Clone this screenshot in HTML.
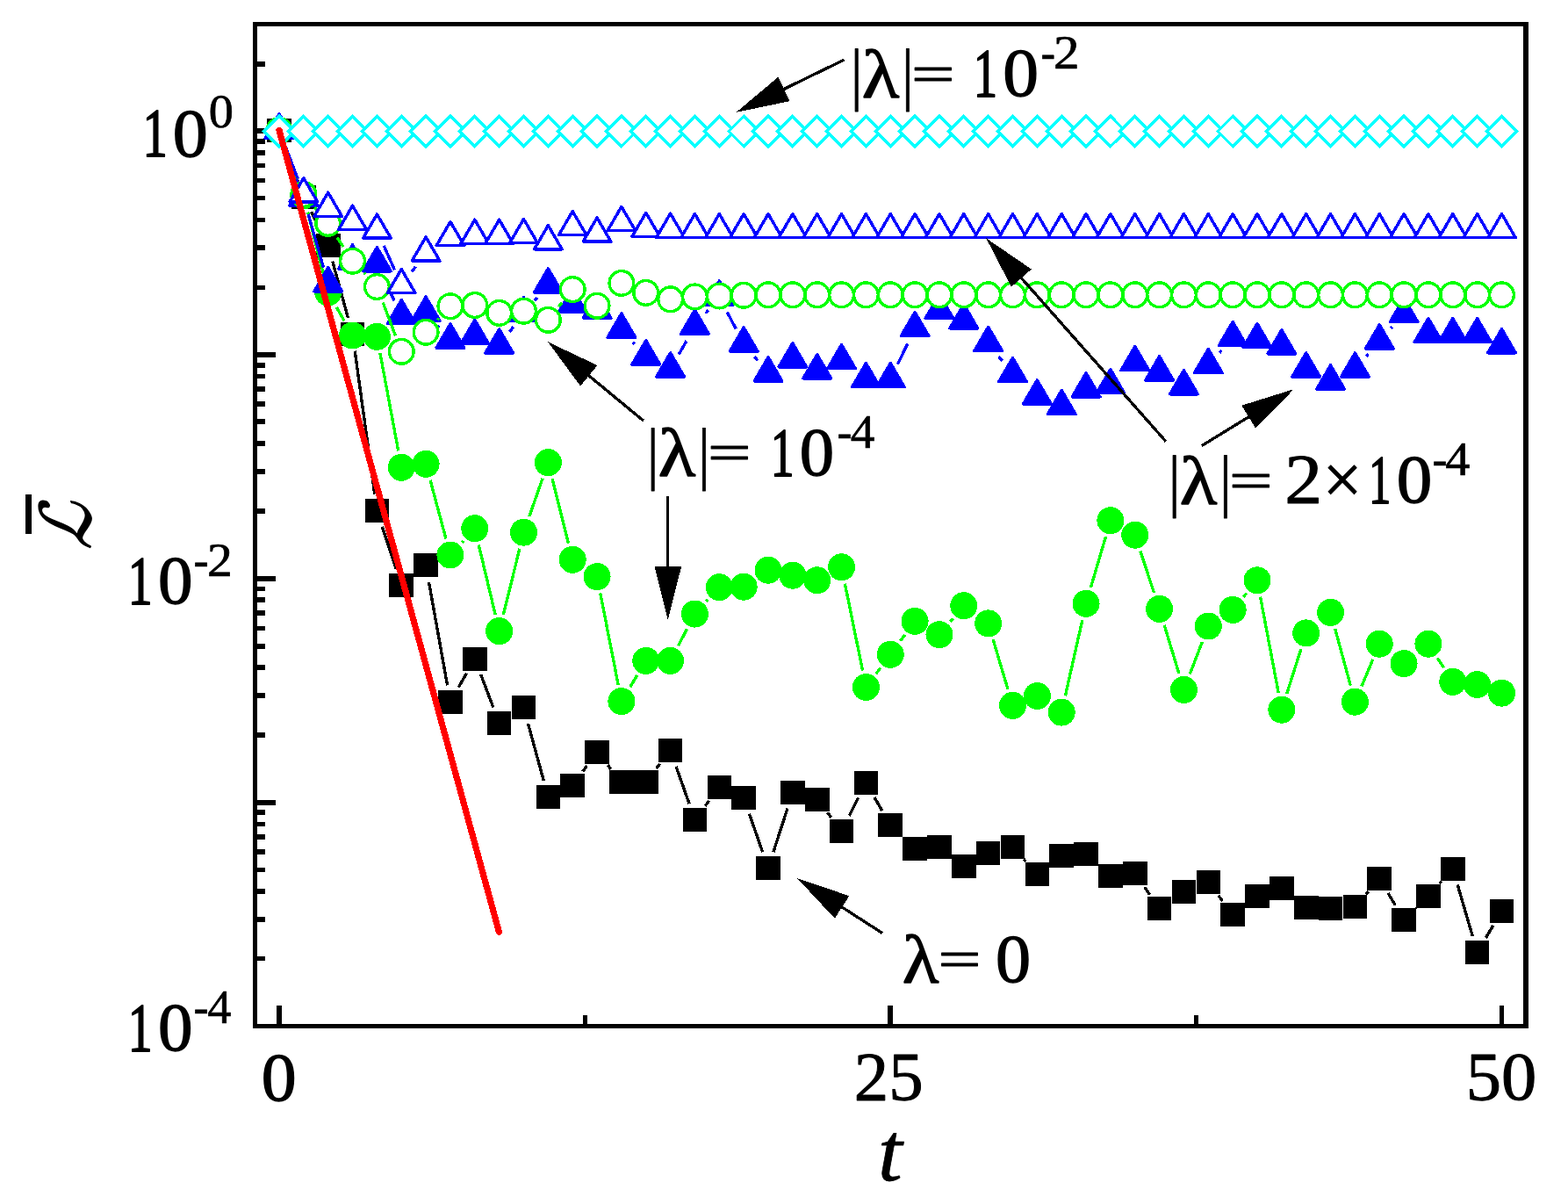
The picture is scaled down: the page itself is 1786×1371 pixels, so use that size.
<!DOCTYPE html>
<html lang="en">
<head>
<meta charset="utf-8">
<title>Chart</title>
<style>
html,body{margin:0;padding:0;background:#fff;}
body{width:1786px;height:1371px;overflow:hidden;}
svg{display:block;}
</style>
</head>
<body>
<svg width="1786" height="1371" viewBox="0 0 1786 1371" font-family="'Liberation Serif', 'DejaVu Serif', serif" fill="#000">
<rect width="1786" height="1371" fill="#fff"/>
<g id="axes" shape-rendering="crispEdges">
<rect x="288" y="25" width="5" height="1146"/>
<rect x="1735" y="25" width="6" height="1146"/>
<rect x="288" y="25" width="1453" height="5"/>
<rect x="288" y="1166" width="1453" height="5"/>
<rect x="293" y="70" width="9" height="6"/>
<rect x="293" y="146" width="21" height="6"/>
<rect x="293" y="158" width="9" height="6"/>
<rect x="293" y="171" width="9" height="6"/>
<rect x="293" y="186" width="9" height="5"/>
<rect x="293" y="203" width="9" height="5"/>
<rect x="293" y="223" width="9" height="5"/>
<rect x="293" y="248" width="9" height="5"/>
<rect x="293" y="279" width="9" height="6"/>
<rect x="293" y="325" width="9" height="5"/>
<rect x="293" y="401" width="21" height="6"/>
<rect x="293" y="413" width="9" height="6"/>
<rect x="293" y="426" width="9" height="5"/>
<rect x="293" y="440" width="9" height="6"/>
<rect x="293" y="457" width="9" height="6"/>
<rect x="293" y="477" width="9" height="6"/>
<rect x="293" y="502" width="9" height="6"/>
<rect x="293" y="534" width="9" height="6"/>
<rect x="293" y="579" width="9" height="6"/>
<rect x="293" y="656" width="21" height="6"/>
<rect x="293" y="668" width="9" height="5"/>
<rect x="293" y="680" width="9" height="6"/>
<rect x="293" y="695" width="9" height="6"/>
<rect x="293" y="713" width="9" height="5"/>
<rect x="293" y="733" width="9" height="6"/>
<rect x="293" y="757" width="9" height="6"/>
<rect x="293" y="789" width="9" height="6"/>
<rect x="293" y="834" width="9" height="6"/>
<rect x="293" y="911" width="21" height="6"/>
<rect x="293" y="922" width="9" height="6"/>
<rect x="293" y="936" width="9" height="5"/>
<rect x="293" y="950" width="9" height="6"/>
<rect x="293" y="967" width="9" height="6"/>
<rect x="293" y="988" width="9" height="5"/>
<rect x="293" y="1012" width="9" height="6"/>
<rect x="293" y="1044" width="9" height="6"/>
<rect x="293" y="1089" width="9" height="5"/>
<rect x="315" y="1145" width="6" height="21"/>
<rect x="664" y="1156" width="5" height="10"/>
<rect x="1011" y="1145" width="6" height="21"/>
<rect x="1360" y="1156" width="5" height="10"/>
<rect x="1708" y="1145" width="5" height="21"/>
</g>
<g id="series" shape-rendering="crispEdges">
<path d="M324.64 166.61L339.21 206.09M354.52 241.23L365.03 261.97M378.78 297.62L396.47 362.08M404.19 399.62L426.76 562.58M435.39 599.84L451.26 648.16M488.48 662.7L509.57 780.4M522.39 782.58L531.36 766.72M547.6 767.95L561.85 805.55M601.56 824.12L619.29 888.98M663.65 878.59L668.6 871.91M692.22 871.35L695.73 875.65M747.58 875.08L751.77 869.72M770.01 872.7L785.04 915.1M803.06 917.91L807.69 911.79M853.48 926.83L868.67 970.37M880.9 970.23L896.95 920.57M942.49 925.35L946.76 930.85M967.26 928.89L977.69 908.41M995.98 907.94L1004.67 923.06M1166.24 978.56L1168.61 981.24M1303.76 1010.23L1309.59 1018.57M1387.83 1019.76L1392.62 1026.14M1555.89 1018.32L1558.76 1014.98M1581.04 1016.92L1589.31 1030.88M1612.86 1034.01L1613.19 1033.69M1639.71 1005.96L1642.04 1003.34M1660.18 1007.43L1677.27 1065.97M1692.44 1067.88L1700.71 1053.92" fill="none" stroke="#000" stroke-width="3.35"/>
<path d="M304.2 135.1h27.6v27h-27.6zM332.05 210.6h27.6v27h-27.6zM359.9 265.6h27.6v27h-27.6zM387.75 367.1h27.6v27h-27.6zM415.6 568.1h27.6v27h-27.6zM443.45 652.9h27.6v27h-27.6zM471.3 630.3h27.6v27h-27.6zM499.15 785.8h27.6v27h-27.6zM527 736.5h27.6v27h-27.6zM554.85 810h27.6v27h-27.6zM582.7 792.1h27.6v27h-27.6zM610.55 894h27.6v27h-27.6zM638.4 880.5h27.6v27h-27.6zM666.25 843h27.6v27h-27.6zM694.1 877h27.6v27h-27.6zM721.95 876.7h27.6v27h-27.6zM749.8 841.1h27.6v27h-27.6zM777.65 919.7h27.6v27h-27.6zM805.5 883h27.6v27h-27.6zM833.35 895.2h27.6v27h-27.6zM861.2 975h27.6v27h-27.6zM889.05 888.8h27.6v27h-27.6zM916.9 896.7h27.6v27h-27.6zM944.75 932.5h27.6v27h-27.6zM972.6 877.8h27.6v27h-27.6zM1000.45 926.2h27.6v27h-27.6zM1028.3 952.5h27.6v27h-27.6zM1056.15 951.4h27.6v27h-27.6zM1084 972.7h27.6v27h-27.6zM1111.85 957.9h27.6v27h-27.6zM1139.7 950.7h27.6v27h-27.6zM1167.55 982.1h27.6v27h-27.6zM1195.4 960.8h27.6v27h-27.6zM1223.25 959.2h27.6v27h-27.6zM1251.1 984.3h27.6v27h-27.6zM1278.95 981h27.6v27h-27.6zM1306.8 1020.8h27.6v27h-27.6zM1334.65 1002.2h27.6v27h-27.6zM1362.5 990.9h27.6v27h-27.6zM1390.35 1028h27.6v27h-27.6zM1418.2 1006.5h27.6v27h-27.6zM1446.05 997.9h27.6v27h-27.6zM1473.9 1019.8h27.6v27h-27.6zM1501.75 1021h27.6v27h-27.6zM1529.6 1019.4h27.6v27h-27.6zM1557.45 986.9h27.6v27h-27.6zM1585.3 1033.9h27.6v27h-27.6zM1613.15 1006.8h27.6v27h-27.6zM1641 975.5h27.6v27h-27.6zM1668.85 1070.9h27.6v27h-27.6zM1696.7 1023.9h27.6v27h-27.6z" fill="#000"/>
<path d="M324.73 166.58L339.12 205.02M350.56 241.61L368.99 314.39M383.19 349.69L392.06 365.31M432.93 402.17L453.72 513.43M490.08 546.84L507.97 613.46M525.94 617.86L527.81 615.84M545.25 620.38L564.2 700.02M573.26 700.06L591.89 624.84M602.85 588.08L618 544.82M629.04 545.32L647.51 618.68M683.75 675.44L704.2 779.76M717.81 782.16L725.84 768.84M772.49 735.38L782.56 716.12M804.42 684.94L806.33 682.86M962.38 664.61L982.57 763.69M997.91 767.13L1002.74 760.67M1025.62 729.83L1030.73 722.87M1082.33 708.03L1085.42 704.37M1131.14 728.3L1148.01 784.9M1213.41 792.37L1232.84 706.03M1242.47 668.88L1259.48 611.12M1298.79 627.43L1314.56 675.07M1326.16 711.68L1342.89 767.02M1355.34 767.48L1369.41 730.92M1416.4 679.62L1419.75 675.58M1435.56 679.67L1456.29 789.33M1465.69 789.91L1481.86 739.19M1520.61 715.82L1538.34 780.68M1550.86 781.51L1563.79 750.89M1637.35 749.34L1644.4 760.26" fill="none" stroke="#00ff00" stroke-width="3.35"/>
<circle cx="318" cy="148.6" r="15.5" fill="#00ff00"/><circle cx="345.85" cy="223" r="15.5" fill="#00ff00"/><circle cx="373.7" cy="333" r="15.5" fill="#00ff00"/><circle cx="401.55" cy="382" r="15.5" fill="#00ff00"/><circle cx="429.4" cy="383.3" r="15.5" fill="#00ff00"/><circle cx="457.25" cy="532.3" r="15.5" fill="#00ff00"/><circle cx="485.1" cy="528.3" r="15.5" fill="#00ff00"/><circle cx="512.95" cy="632" r="15.5" fill="#00ff00"/><circle cx="540.8" cy="601.7" r="15.5" fill="#00ff00"/><circle cx="568.65" cy="718.7" r="15.5" fill="#00ff00"/><circle cx="596.5" cy="606.2" r="15.5" fill="#00ff00"/><circle cx="624.35" cy="526.7" r="15.5" fill="#00ff00"/><circle cx="652.2" cy="637.3" r="15.5" fill="#00ff00"/><circle cx="680.05" cy="656.6" r="15.5" fill="#00ff00"/><circle cx="707.9" cy="798.6" r="15.5" fill="#00ff00"/><circle cx="735.75" cy="752.4" r="15.5" fill="#00ff00"/><circle cx="763.6" cy="752.4" r="15.5" fill="#00ff00"/><circle cx="791.45" cy="699.1" r="15.5" fill="#00ff00"/><circle cx="819.3" cy="668.7" r="15.5" fill="#00ff00"/><circle cx="847.15" cy="668.2" r="15.5" fill="#00ff00"/><circle cx="875" cy="649.2" r="15.5" fill="#00ff00"/><circle cx="902.85" cy="655.2" r="15.5" fill="#00ff00"/><circle cx="930.7" cy="660.8" r="15.5" fill="#00ff00"/><circle cx="958.55" cy="645.8" r="15.5" fill="#00ff00"/><circle cx="986.4" cy="782.5" r="15.5" fill="#00ff00"/><circle cx="1014.25" cy="745.3" r="15.5" fill="#00ff00"/><circle cx="1042.1" cy="707.4" r="15.5" fill="#00ff00"/><circle cx="1069.95" cy="722.7" r="15.5" fill="#00ff00"/><circle cx="1097.8" cy="689.7" r="15.5" fill="#00ff00"/><circle cx="1125.65" cy="709.9" r="15.5" fill="#00ff00"/><circle cx="1153.5" cy="803.3" r="15.5" fill="#00ff00"/><circle cx="1181.35" cy="792.5" r="15.5" fill="#00ff00"/><circle cx="1209.2" cy="811.1" r="15.5" fill="#00ff00"/><circle cx="1237.05" cy="687.3" r="15.5" fill="#00ff00"/><circle cx="1264.9" cy="592.7" r="15.5" fill="#00ff00"/><circle cx="1292.75" cy="609.2" r="15.5" fill="#00ff00"/><circle cx="1320.6" cy="693.3" r="15.5" fill="#00ff00"/><circle cx="1348.45" cy="785.4" r="15.5" fill="#00ff00"/><circle cx="1376.3" cy="713" r="15.5" fill="#00ff00"/><circle cx="1404.15" cy="694.4" r="15.5" fill="#00ff00"/><circle cx="1432" cy="660.8" r="15.5" fill="#00ff00"/><circle cx="1459.85" cy="808.2" r="15.5" fill="#00ff00"/><circle cx="1487.7" cy="720.9" r="15.5" fill="#00ff00"/><circle cx="1515.55" cy="697.3" r="15.5" fill="#00ff00"/><circle cx="1543.4" cy="799.2" r="15.5" fill="#00ff00"/><circle cx="1571.25" cy="733.2" r="15.5" fill="#00ff00"/><circle cx="1599.1" cy="755.6" r="15.5" fill="#00ff00"/><circle cx="1626.95" cy="733.2" r="15.5" fill="#00ff00"/><circle cx="1654.8" cy="776.4" r="15.5" fill="#00ff00"/><circle cx="1682.65" cy="779.5" r="15.5" fill="#00ff00"/><circle cx="1710.5" cy="789.2" r="15.5" fill="#00ff00"/>
<path d="M324.58 166.94L339.27 207.26M351.11 243.77L368.44 304.63M437.49 317.51L449.16 342.59M497.98 370.74L500.07 373.06M580.34 378.07L584.81 372.23M608.95 342.38L611.9 338.92M720.78 389.74L722.87 392.06M773.12 403.62L781.93 388.18M803.83 356.83L806.92 353.17M828.26 355.48L838.19 374.32M859.32 406.15L862.83 410.45M1022.56 414.69L1033.79 391.31M1137.56 405.86L1141.59 410.94M1389.13 401.62L1391.32 399.18M1555.98 405.9L1558.67 402.8M1584.24 374.16L1586.11 372.14" fill="none" stroke="#0000ff" stroke-width="3.35"/>
<path d="M318 130.5L333.8 157.6H302.2zM345.85 206.9L361.65 234H330.05zM373.7 304.7L389.5 331.8H357.9zM401.55 278.9L417.35 306H385.75zM429.4 281.7L445.2 308.8H413.6zM457.25 341.6L473.05 368.7H441.45zM485.1 338.1L500.9 365.2H469.3zM512.95 368.9L528.75 396H497.15zM540.8 364.4L556.6 391.5H525zM568.65 374.9L584.45 402H552.85zM596.5 338.6L612.3 365.7H580.7zM624.35 305.9L640.15 333H608.55zM652.2 328.6L668 355.7H636.4zM680.05 334.9L695.85 362H664.25zM707.9 357.1L723.7 384.2H692.1zM735.75 387.9L751.55 415H719.95zM763.6 401.9L779.4 429H747.8zM791.45 353.1L807.25 380.2H775.65zM819.3 320.1L835.1 347.2H803.5zM847.15 372.9L862.95 400H831.35zM875 406.9L890.8 434H859.2zM902.85 390.8L918.65 417.9H887.05zM930.7 403.8L946.5 430.9H914.9zM958.55 392.6L974.35 419.7H942.75zM986.4 413.6L1002.2 440.7H970.6zM1014.25 413.6L1030.05 440.7H998.45zM1042.1 355.6L1057.9 382.7H1026.3zM1069.95 335.4L1085.75 362.5H1054.15zM1097.8 346.7L1113.6 373.8H1082zM1125.65 372.4L1141.45 399.5H1109.85zM1153.5 407.6L1169.3 434.7H1137.7zM1181.35 432.9L1197.15 460H1165.55zM1209.2 444.5L1225 471.6H1193.4zM1237.05 424.8L1252.85 451.9H1221.25zM1264.9 420.6L1280.7 447.7H1249.1zM1292.75 394.6L1308.55 421.7H1276.95zM1320.6 405.8L1336.4 432.9H1304.8zM1348.45 421.7L1364.25 448.8H1332.65zM1376.3 397.5L1392.1 424.6H1360.5zM1404.15 366.5L1419.95 393.6H1388.35zM1432 368.5L1447.8 395.6H1416.2zM1459.85 375.8L1475.65 402.9H1444.05zM1487.7 402L1503.5 429.1H1471.9zM1515.55 415.9L1531.35 443H1499.75zM1543.4 402L1559.2 429.1H1527.6zM1571.25 369.9L1587.05 397H1555.45zM1599.1 339.6L1614.9 366.7H1583.3zM1626.95 362.6L1642.75 389.7H1611.15zM1654.8 362.6L1670.6 389.7H1639zM1682.65 362.6L1698.45 389.7H1666.85zM1710.5 374.7L1726.3 401.8H1694.7z" fill="#0000ff" stroke="#0000ff" stroke-width="3.45" stroke-linejoin="round"/>
<path d="M324.85 166.54L339 203.56M358.26 236.15L361.29 239.75M384.17 270.49L391.08 281.11M414.78 311.12L416.17 312.58M436.18 344.46L450.47 382.34M498.28 364.24L499.77 362.66M636.37 349.33L640.18 344.57" fill="none" stroke="#00ff00" stroke-width="3.35"/>
<circle cx="318" cy="148.6" r="13.85" fill="#fff" stroke="#00ff00" stroke-width="3.4"/><circle cx="345.85" cy="221.5" r="13.85" fill="#fff" stroke="#00ff00" stroke-width="3.4"/><circle cx="373.7" cy="254.4" r="13.85" fill="#fff" stroke="#00ff00" stroke-width="3.4"/><circle cx="401.55" cy="297.2" r="13.85" fill="#fff" stroke="#00ff00" stroke-width="3.4"/><circle cx="429.4" cy="326.5" r="13.85" fill="#fff" stroke="#00ff00" stroke-width="3.4"/><circle cx="457.25" cy="400.3" r="13.85" fill="#fff" stroke="#00ff00" stroke-width="3.4"/><circle cx="485.1" cy="378.2" r="13.85" fill="#fff" stroke="#00ff00" stroke-width="3.4"/><circle cx="512.95" cy="348.7" r="13.85" fill="#fff" stroke="#00ff00" stroke-width="3.4"/><circle cx="540.8" cy="347.5" r="13.85" fill="#fff" stroke="#00ff00" stroke-width="3.4"/><circle cx="568.65" cy="356.4" r="13.85" fill="#fff" stroke="#00ff00" stroke-width="3.4"/><circle cx="596.5" cy="354.2" r="13.85" fill="#fff" stroke="#00ff00" stroke-width="3.4"/><circle cx="624.35" cy="364.3" r="13.85" fill="#fff" stroke="#00ff00" stroke-width="3.4"/><circle cx="652.2" cy="329.6" r="13.85" fill="#fff" stroke="#00ff00" stroke-width="3.4"/><circle cx="680.05" cy="348.2" r="13.85" fill="#fff" stroke="#00ff00" stroke-width="3.4"/><circle cx="707.9" cy="322.4" r="13.85" fill="#fff" stroke="#00ff00" stroke-width="3.4"/><circle cx="735.75" cy="333.4" r="13.85" fill="#fff" stroke="#00ff00" stroke-width="3.4"/><circle cx="763.6" cy="340.8" r="13.85" fill="#fff" stroke="#00ff00" stroke-width="3.4"/><circle cx="791.45" cy="337.9" r="13.85" fill="#fff" stroke="#00ff00" stroke-width="3.4"/><circle cx="819.3" cy="337" r="13.85" fill="#fff" stroke="#00ff00" stroke-width="3.4"/><circle cx="847.15" cy="336.3" r="13.85" fill="#fff" stroke="#00ff00" stroke-width="3.4"/><circle cx="875" cy="335.8" r="13.85" fill="#fff" stroke="#00ff00" stroke-width="3.4"/><circle cx="902.85" cy="335.8" r="13.85" fill="#fff" stroke="#00ff00" stroke-width="3.4"/><circle cx="930.7" cy="335.8" r="13.85" fill="#fff" stroke="#00ff00" stroke-width="3.4"/><circle cx="958.55" cy="335.8" r="13.85" fill="#fff" stroke="#00ff00" stroke-width="3.4"/><circle cx="986.4" cy="335.8" r="13.85" fill="#fff" stroke="#00ff00" stroke-width="3.4"/><circle cx="1014.25" cy="335.8" r="13.85" fill="#fff" stroke="#00ff00" stroke-width="3.4"/><circle cx="1042.1" cy="335.8" r="13.85" fill="#fff" stroke="#00ff00" stroke-width="3.4"/><circle cx="1069.95" cy="335.8" r="13.85" fill="#fff" stroke="#00ff00" stroke-width="3.4"/><circle cx="1097.8" cy="335.8" r="13.85" fill="#fff" stroke="#00ff00" stroke-width="3.4"/><circle cx="1125.65" cy="335.8" r="13.85" fill="#fff" stroke="#00ff00" stroke-width="3.4"/><circle cx="1153.5" cy="335.8" r="13.85" fill="#fff" stroke="#00ff00" stroke-width="3.4"/><circle cx="1181.35" cy="335.8" r="13.85" fill="#fff" stroke="#00ff00" stroke-width="3.4"/><circle cx="1209.2" cy="335.8" r="13.85" fill="#fff" stroke="#00ff00" stroke-width="3.4"/><circle cx="1237.05" cy="335.8" r="13.85" fill="#fff" stroke="#00ff00" stroke-width="3.4"/><circle cx="1264.9" cy="335.8" r="13.85" fill="#fff" stroke="#00ff00" stroke-width="3.4"/><circle cx="1292.75" cy="335.8" r="13.85" fill="#fff" stroke="#00ff00" stroke-width="3.4"/><circle cx="1320.6" cy="335.8" r="13.85" fill="#fff" stroke="#00ff00" stroke-width="3.4"/><circle cx="1348.45" cy="335.8" r="13.85" fill="#fff" stroke="#00ff00" stroke-width="3.4"/><circle cx="1376.3" cy="335.8" r="13.85" fill="#fff" stroke="#00ff00" stroke-width="3.4"/><circle cx="1404.15" cy="335.8" r="13.85" fill="#fff" stroke="#00ff00" stroke-width="3.4"/><circle cx="1432" cy="335.8" r="13.85" fill="#fff" stroke="#00ff00" stroke-width="3.4"/><circle cx="1459.85" cy="335.8" r="13.85" fill="#fff" stroke="#00ff00" stroke-width="3.4"/><circle cx="1487.7" cy="335.8" r="13.85" fill="#fff" stroke="#00ff00" stroke-width="3.4"/><circle cx="1515.55" cy="335.8" r="13.85" fill="#fff" stroke="#00ff00" stroke-width="3.4"/><circle cx="1543.4" cy="335.8" r="13.85" fill="#fff" stroke="#00ff00" stroke-width="3.4"/><circle cx="1571.25" cy="335.8" r="13.85" fill="#fff" stroke="#00ff00" stroke-width="3.4"/><circle cx="1599.1" cy="335.8" r="13.85" fill="#fff" stroke="#00ff00" stroke-width="3.4"/><circle cx="1626.95" cy="335.8" r="13.85" fill="#fff" stroke="#00ff00" stroke-width="3.4"/><circle cx="1654.8" cy="335.8" r="13.85" fill="#fff" stroke="#00ff00" stroke-width="3.4"/><circle cx="1682.65" cy="335.8" r="13.85" fill="#fff" stroke="#00ff00" stroke-width="3.4"/><circle cx="1710.5" cy="335.8" r="13.85" fill="#fff" stroke="#00ff00" stroke-width="3.4"/>
<path d="M324.85 166.14L339 203.16M437.21 279.94L449.44 307.36M468.88 309.62L473.47 303.58" fill="none" stroke="#0000ff" stroke-width="3.35"/>
<path d="M318 129.8L333.8 156.9H302.2z" fill="#fff" stroke="#0000ff" stroke-width="3.45" stroke-linejoin="round"/><path d="M345.85 202.7L361.65 229.8H330.05z" fill="#fff" stroke="#0000ff" stroke-width="3.45" stroke-linejoin="round"/><path d="M373.7 219.2L389.5 246.3H357.9z" fill="#fff" stroke="#0000ff" stroke-width="3.45" stroke-linejoin="round"/><path d="M401.55 234.2L417.35 261.3H385.75z" fill="#fff" stroke="#0000ff" stroke-width="3.45" stroke-linejoin="round"/><path d="M429.4 244L445.2 271.1H413.6z" fill="#fff" stroke="#0000ff" stroke-width="3.45" stroke-linejoin="round"/><path d="M457.25 306.5L473.05 333.6H441.45z" fill="#fff" stroke="#0000ff" stroke-width="3.45" stroke-linejoin="round"/><path d="M485.1 269.9L500.9 297H469.3z" fill="#fff" stroke="#0000ff" stroke-width="3.45" stroke-linejoin="round"/><path d="M512.95 252.5L528.75 279.6H497.15z" fill="#fff" stroke="#0000ff" stroke-width="3.45" stroke-linejoin="round"/><path d="M540.8 250.2L556.6 277.3H525z" fill="#fff" stroke="#0000ff" stroke-width="3.45" stroke-linejoin="round"/><path d="M568.65 250.2L584.45 277.3H552.85z" fill="#fff" stroke="#0000ff" stroke-width="3.45" stroke-linejoin="round"/><path d="M596.5 249.5L612.3 276.6H580.7z" fill="#fff" stroke="#0000ff" stroke-width="3.45" stroke-linejoin="round"/><path d="M624.35 256.7L640.15 283.8H608.55z" fill="#fff" stroke="#0000ff" stroke-width="3.45" stroke-linejoin="round"/><path d="M652.2 240.6L668 267.7H636.4z" fill="#fff" stroke="#0000ff" stroke-width="3.45" stroke-linejoin="round"/><path d="M680.05 247.9L695.85 275H664.25z" fill="#fff" stroke="#0000ff" stroke-width="3.45" stroke-linejoin="round"/><path d="M707.9 235.4L723.7 262.5H692.1z" fill="#fff" stroke="#0000ff" stroke-width="3.45" stroke-linejoin="round"/><path d="M735.75 242.3L751.55 269.4H719.95z" fill="#fff" stroke="#0000ff" stroke-width="3.45" stroke-linejoin="round"/><path d="M763.6 243.2L779.4 270.3H747.8z" fill="#fff" stroke="#0000ff" stroke-width="3.45" stroke-linejoin="round"/><path d="M791.45 243.6L807.25 270.7H775.65z" fill="#fff" stroke="#0000ff" stroke-width="3.45" stroke-linejoin="round"/><path d="M819.3 243.6L835.1 270.7H803.5z" fill="#fff" stroke="#0000ff" stroke-width="3.45" stroke-linejoin="round"/><path d="M847.15 243.6L862.95 270.7H831.35z" fill="#fff" stroke="#0000ff" stroke-width="3.45" stroke-linejoin="round"/><path d="M875 243.6L890.8 270.7H859.2z" fill="#fff" stroke="#0000ff" stroke-width="3.45" stroke-linejoin="round"/><path d="M902.85 243.6L918.65 270.7H887.05z" fill="#fff" stroke="#0000ff" stroke-width="3.45" stroke-linejoin="round"/><path d="M930.7 243.6L946.5 270.7H914.9z" fill="#fff" stroke="#0000ff" stroke-width="3.45" stroke-linejoin="round"/><path d="M958.55 243.6L974.35 270.7H942.75z" fill="#fff" stroke="#0000ff" stroke-width="3.45" stroke-linejoin="round"/><path d="M986.4 243.6L1002.2 270.7H970.6z" fill="#fff" stroke="#0000ff" stroke-width="3.45" stroke-linejoin="round"/><path d="M1014.25 243.6L1030.05 270.7H998.45z" fill="#fff" stroke="#0000ff" stroke-width="3.45" stroke-linejoin="round"/><path d="M1042.1 243.6L1057.9 270.7H1026.3z" fill="#fff" stroke="#0000ff" stroke-width="3.45" stroke-linejoin="round"/><path d="M1069.95 243.6L1085.75 270.7H1054.15z" fill="#fff" stroke="#0000ff" stroke-width="3.45" stroke-linejoin="round"/><path d="M1097.8 243.6L1113.6 270.7H1082z" fill="#fff" stroke="#0000ff" stroke-width="3.45" stroke-linejoin="round"/><path d="M1125.65 243.6L1141.45 270.7H1109.85z" fill="#fff" stroke="#0000ff" stroke-width="3.45" stroke-linejoin="round"/><path d="M1153.5 243.6L1169.3 270.7H1137.7z" fill="#fff" stroke="#0000ff" stroke-width="3.45" stroke-linejoin="round"/><path d="M1181.35 243.6L1197.15 270.7H1165.55z" fill="#fff" stroke="#0000ff" stroke-width="3.45" stroke-linejoin="round"/><path d="M1209.2 243.6L1225 270.7H1193.4z" fill="#fff" stroke="#0000ff" stroke-width="3.45" stroke-linejoin="round"/><path d="M1237.05 243.6L1252.85 270.7H1221.25z" fill="#fff" stroke="#0000ff" stroke-width="3.45" stroke-linejoin="round"/><path d="M1264.9 243.6L1280.7 270.7H1249.1z" fill="#fff" stroke="#0000ff" stroke-width="3.45" stroke-linejoin="round"/><path d="M1292.75 243.6L1308.55 270.7H1276.95z" fill="#fff" stroke="#0000ff" stroke-width="3.45" stroke-linejoin="round"/><path d="M1320.6 243.6L1336.4 270.7H1304.8z" fill="#fff" stroke="#0000ff" stroke-width="3.45" stroke-linejoin="round"/><path d="M1348.45 243.6L1364.25 270.7H1332.65z" fill="#fff" stroke="#0000ff" stroke-width="3.45" stroke-linejoin="round"/><path d="M1376.3 243.6L1392.1 270.7H1360.5z" fill="#fff" stroke="#0000ff" stroke-width="3.45" stroke-linejoin="round"/><path d="M1404.15 243.6L1419.95 270.7H1388.35z" fill="#fff" stroke="#0000ff" stroke-width="3.45" stroke-linejoin="round"/><path d="M1432 243.6L1447.8 270.7H1416.2z" fill="#fff" stroke="#0000ff" stroke-width="3.45" stroke-linejoin="round"/><path d="M1459.85 243.6L1475.65 270.7H1444.05z" fill="#fff" stroke="#0000ff" stroke-width="3.45" stroke-linejoin="round"/><path d="M1487.7 243.6L1503.5 270.7H1471.9z" fill="#fff" stroke="#0000ff" stroke-width="3.45" stroke-linejoin="round"/><path d="M1515.55 243.6L1531.35 270.7H1499.75z" fill="#fff" stroke="#0000ff" stroke-width="3.45" stroke-linejoin="round"/><path d="M1543.4 243.6L1559.2 270.7H1527.6z" fill="#fff" stroke="#0000ff" stroke-width="3.45" stroke-linejoin="round"/><path d="M1571.25 243.6L1587.05 270.7H1555.45z" fill="#fff" stroke="#0000ff" stroke-width="3.45" stroke-linejoin="round"/><path d="M1599.1 243.6L1614.9 270.7H1583.3z" fill="#fff" stroke="#0000ff" stroke-width="3.45" stroke-linejoin="round"/><path d="M1626.95 243.6L1642.75 270.7H1611.15z" fill="#fff" stroke="#0000ff" stroke-width="3.45" stroke-linejoin="round"/><path d="M1654.8 243.6L1670.6 270.7H1639z" fill="#fff" stroke="#0000ff" stroke-width="3.45" stroke-linejoin="round"/><path d="M1682.65 243.6L1698.45 270.7H1666.85z" fill="#fff" stroke="#0000ff" stroke-width="3.45" stroke-linejoin="round"/><path d="M1710.5 243.6L1726.3 270.7H1694.7z" fill="#fff" stroke="#0000ff" stroke-width="3.45" stroke-linejoin="round"/>
<path d="M318 132.37L335.13 149.5L318 166.63L300.87 149.5z" fill="#fff" stroke="#00ffff" stroke-width="3.5" stroke-linejoin="miter"/><path d="M345.85 132.37L362.98 149.5L345.85 166.63L328.72 149.5z" fill="#fff" stroke="#00ffff" stroke-width="3.5" stroke-linejoin="miter"/><path d="M373.7 132.37L390.83 149.5L373.7 166.63L356.57 149.5z" fill="#fff" stroke="#00ffff" stroke-width="3.5" stroke-linejoin="miter"/><path d="M401.55 132.37L418.68 149.5L401.55 166.63L384.42 149.5z" fill="#fff" stroke="#00ffff" stroke-width="3.5" stroke-linejoin="miter"/><path d="M429.4 132.37L446.53 149.5L429.4 166.63L412.27 149.5z" fill="#fff" stroke="#00ffff" stroke-width="3.5" stroke-linejoin="miter"/><path d="M457.25 132.37L474.38 149.5L457.25 166.63L440.12 149.5z" fill="#fff" stroke="#00ffff" stroke-width="3.5" stroke-linejoin="miter"/><path d="M485.1 132.37L502.23 149.5L485.1 166.63L467.97 149.5z" fill="#fff" stroke="#00ffff" stroke-width="3.5" stroke-linejoin="miter"/><path d="M512.95 132.37L530.08 149.5L512.95 166.63L495.82 149.5z" fill="#fff" stroke="#00ffff" stroke-width="3.5" stroke-linejoin="miter"/><path d="M540.8 132.37L557.93 149.5L540.8 166.63L523.67 149.5z" fill="#fff" stroke="#00ffff" stroke-width="3.5" stroke-linejoin="miter"/><path d="M568.65 132.37L585.78 149.5L568.65 166.63L551.52 149.5z" fill="#fff" stroke="#00ffff" stroke-width="3.5" stroke-linejoin="miter"/><path d="M596.5 132.37L613.63 149.5L596.5 166.63L579.37 149.5z" fill="#fff" stroke="#00ffff" stroke-width="3.5" stroke-linejoin="miter"/><path d="M624.35 132.37L641.48 149.5L624.35 166.63L607.22 149.5z" fill="#fff" stroke="#00ffff" stroke-width="3.5" stroke-linejoin="miter"/><path d="M652.2 132.37L669.33 149.5L652.2 166.63L635.07 149.5z" fill="#fff" stroke="#00ffff" stroke-width="3.5" stroke-linejoin="miter"/><path d="M680.05 132.37L697.18 149.5L680.05 166.63L662.92 149.5z" fill="#fff" stroke="#00ffff" stroke-width="3.5" stroke-linejoin="miter"/><path d="M707.9 132.37L725.03 149.5L707.9 166.63L690.77 149.5z" fill="#fff" stroke="#00ffff" stroke-width="3.5" stroke-linejoin="miter"/><path d="M735.75 132.37L752.88 149.5L735.75 166.63L718.62 149.5z" fill="#fff" stroke="#00ffff" stroke-width="3.5" stroke-linejoin="miter"/><path d="M763.6 132.37L780.73 149.5L763.6 166.63L746.47 149.5z" fill="#fff" stroke="#00ffff" stroke-width="3.5" stroke-linejoin="miter"/><path d="M791.45 132.37L808.58 149.5L791.45 166.63L774.32 149.5z" fill="#fff" stroke="#00ffff" stroke-width="3.5" stroke-linejoin="miter"/><path d="M819.3 132.37L836.43 149.5L819.3 166.63L802.17 149.5z" fill="#fff" stroke="#00ffff" stroke-width="3.5" stroke-linejoin="miter"/><path d="M847.15 132.37L864.28 149.5L847.15 166.63L830.02 149.5z" fill="#fff" stroke="#00ffff" stroke-width="3.5" stroke-linejoin="miter"/><path d="M875 132.37L892.13 149.5L875 166.63L857.87 149.5z" fill="#fff" stroke="#00ffff" stroke-width="3.5" stroke-linejoin="miter"/><path d="M902.85 132.37L919.98 149.5L902.85 166.63L885.72 149.5z" fill="#fff" stroke="#00ffff" stroke-width="3.5" stroke-linejoin="miter"/><path d="M930.7 132.37L947.83 149.5L930.7 166.63L913.57 149.5z" fill="#fff" stroke="#00ffff" stroke-width="3.5" stroke-linejoin="miter"/><path d="M958.55 132.37L975.68 149.5L958.55 166.63L941.42 149.5z" fill="#fff" stroke="#00ffff" stroke-width="3.5" stroke-linejoin="miter"/><path d="M986.4 132.37L1003.53 149.5L986.4 166.63L969.27 149.5z" fill="#fff" stroke="#00ffff" stroke-width="3.5" stroke-linejoin="miter"/><path d="M1014.25 132.37L1031.38 149.5L1014.25 166.63L997.12 149.5z" fill="#fff" stroke="#00ffff" stroke-width="3.5" stroke-linejoin="miter"/><path d="M1042.1 132.37L1059.23 149.5L1042.1 166.63L1024.97 149.5z" fill="#fff" stroke="#00ffff" stroke-width="3.5" stroke-linejoin="miter"/><path d="M1069.95 132.37L1087.08 149.5L1069.95 166.63L1052.82 149.5z" fill="#fff" stroke="#00ffff" stroke-width="3.5" stroke-linejoin="miter"/><path d="M1097.8 132.37L1114.93 149.5L1097.8 166.63L1080.67 149.5z" fill="#fff" stroke="#00ffff" stroke-width="3.5" stroke-linejoin="miter"/><path d="M1125.65 132.37L1142.78 149.5L1125.65 166.63L1108.52 149.5z" fill="#fff" stroke="#00ffff" stroke-width="3.5" stroke-linejoin="miter"/><path d="M1153.5 132.37L1170.63 149.5L1153.5 166.63L1136.37 149.5z" fill="#fff" stroke="#00ffff" stroke-width="3.5" stroke-linejoin="miter"/><path d="M1181.35 132.37L1198.48 149.5L1181.35 166.63L1164.22 149.5z" fill="#fff" stroke="#00ffff" stroke-width="3.5" stroke-linejoin="miter"/><path d="M1209.2 132.37L1226.33 149.5L1209.2 166.63L1192.07 149.5z" fill="#fff" stroke="#00ffff" stroke-width="3.5" stroke-linejoin="miter"/><path d="M1237.05 132.37L1254.18 149.5L1237.05 166.63L1219.92 149.5z" fill="#fff" stroke="#00ffff" stroke-width="3.5" stroke-linejoin="miter"/><path d="M1264.9 132.37L1282.03 149.5L1264.9 166.63L1247.77 149.5z" fill="#fff" stroke="#00ffff" stroke-width="3.5" stroke-linejoin="miter"/><path d="M1292.75 132.37L1309.88 149.5L1292.75 166.63L1275.62 149.5z" fill="#fff" stroke="#00ffff" stroke-width="3.5" stroke-linejoin="miter"/><path d="M1320.6 132.37L1337.73 149.5L1320.6 166.63L1303.47 149.5z" fill="#fff" stroke="#00ffff" stroke-width="3.5" stroke-linejoin="miter"/><path d="M1348.45 132.37L1365.58 149.5L1348.45 166.63L1331.32 149.5z" fill="#fff" stroke="#00ffff" stroke-width="3.5" stroke-linejoin="miter"/><path d="M1376.3 132.37L1393.43 149.5L1376.3 166.63L1359.17 149.5z" fill="#fff" stroke="#00ffff" stroke-width="3.5" stroke-linejoin="miter"/><path d="M1404.15 132.37L1421.28 149.5L1404.15 166.63L1387.02 149.5z" fill="#fff" stroke="#00ffff" stroke-width="3.5" stroke-linejoin="miter"/><path d="M1432 132.37L1449.13 149.5L1432 166.63L1414.87 149.5z" fill="#fff" stroke="#00ffff" stroke-width="3.5" stroke-linejoin="miter"/><path d="M1459.85 132.37L1476.98 149.5L1459.85 166.63L1442.72 149.5z" fill="#fff" stroke="#00ffff" stroke-width="3.5" stroke-linejoin="miter"/><path d="M1487.7 132.37L1504.83 149.5L1487.7 166.63L1470.57 149.5z" fill="#fff" stroke="#00ffff" stroke-width="3.5" stroke-linejoin="miter"/><path d="M1515.55 132.37L1532.68 149.5L1515.55 166.63L1498.42 149.5z" fill="#fff" stroke="#00ffff" stroke-width="3.5" stroke-linejoin="miter"/><path d="M1543.4 132.37L1560.53 149.5L1543.4 166.63L1526.27 149.5z" fill="#fff" stroke="#00ffff" stroke-width="3.5" stroke-linejoin="miter"/><path d="M1571.25 132.37L1588.38 149.5L1571.25 166.63L1554.12 149.5z" fill="#fff" stroke="#00ffff" stroke-width="3.5" stroke-linejoin="miter"/><path d="M1599.1 132.37L1616.23 149.5L1599.1 166.63L1581.97 149.5z" fill="#fff" stroke="#00ffff" stroke-width="3.5" stroke-linejoin="miter"/><path d="M1626.95 132.37L1644.08 149.5L1626.95 166.63L1609.82 149.5z" fill="#fff" stroke="#00ffff" stroke-width="3.5" stroke-linejoin="miter"/><path d="M1654.8 132.37L1671.93 149.5L1654.8 166.63L1637.67 149.5z" fill="#fff" stroke="#00ffff" stroke-width="3.5" stroke-linejoin="miter"/><path d="M1682.65 132.37L1699.78 149.5L1682.65 166.63L1665.52 149.5z" fill="#fff" stroke="#00ffff" stroke-width="3.5" stroke-linejoin="miter"/><path d="M1710.5 132.37L1727.63 149.5L1710.5 166.63L1693.37 149.5z" fill="#fff" stroke="#00ffff" stroke-width="3.5" stroke-linejoin="miter"/>
<line x1="318" y1="148.3" x2="568.45" y2="1061.3" stroke="#ff0000" stroke-width="7.2" stroke-linecap="round"/>
</g>
<g id="annot" shape-rendering="crispEdges">
<line x1="961.5" y1="68.1" x2="891.2" y2="102.3" stroke="#000" stroke-width="3.3"/><path d="M838.6 127.9L886.33 87.72L899.67 115.14z" fill="#000"/>
<line x1="732.9" y1="479.1" x2="669.22" y2="426.54" stroke="#000" stroke-width="3.3"/><path d="M624.1 389.3L680.47 416.05L661.05 439.57z" fill="#000"/>
<line x1="760.8" y1="565.2" x2="760.8" y2="647.4" stroke="#000" stroke-width="3.3"/><path d="M760.8 705.9L745.55 645.4L776.05 645.4z" fill="#000"/>
<line x1="1327.8" y1="502.5" x2="1162.06" y2="315.12" stroke="#000" stroke-width="3.3"/><path d="M1123.3 271.3L1174.81 306.51L1151.96 326.72z" fill="#000"/>
<line x1="1368.8" y1="507.6" x2="1423.95" y2="473.72" stroke="#000" stroke-width="3.3"/><path d="M1473.8 443.1L1430.23 487.76L1414.27 461.77z" fill="#000"/>
<line x1="1004.9" y1="1062.5" x2="957.38" y2="1031.88" stroke="#000" stroke-width="3.3"/><path d="M908.2 1000.2L967.32 1020.15L950.8 1045.79z" fill="#000"/>
</g>
<g id="labels">
<g><text transform="translate(162.52 177.4) scale(0.7076 0.9800)" font-size="80" stroke="#000" stroke-width="1.9" stroke-linejoin="round" xml:space="preserve">1</text><text transform="translate(196.65 177.5) scale(1.0000 0.9800)" font-size="80" stroke="#000" stroke-width="1.3" stroke-linejoin="round" xml:space="preserve">0</text><text transform="translate(237.64 144.98) scale(1.0260 0.9800)" font-size="55" stroke="#000" stroke-width="0.7" stroke-linejoin="round" xml:space="preserve">0</text></g>
<g><text transform="translate(145.78 686.8) scale(0.6977 0.9800)" font-size="80" stroke="#000" stroke-width="1.9" stroke-linejoin="round" xml:space="preserve">1</text><text transform="translate(179.98 686.9) scale(0.9887 0.9800)" font-size="80" stroke="#000" stroke-width="1.3" stroke-linejoin="round" xml:space="preserve">0</text><text transform="translate(220.4 655.8) scale(0.9333 1.0000)" font-size="55" stroke="#000" stroke-width="0.7" stroke-linejoin="round" xml:space="preserve">-</text><text transform="translate(235.97 655.8) scale(1.0485 1.0000)" font-size="55" stroke="#000" stroke-width="0.7" stroke-linejoin="round" xml:space="preserve">2</text></g>
<g><text transform="translate(145.78 1195.8) scale(0.6977 0.9800)" font-size="80" stroke="#000" stroke-width="1.9" stroke-linejoin="round" xml:space="preserve">1</text><text transform="translate(179.98 1195.9) scale(0.9887 0.9800)" font-size="80" stroke="#000" stroke-width="1.3" stroke-linejoin="round" xml:space="preserve">0</text><text transform="translate(220.4 1164.8) scale(0.9333 1.0000)" font-size="55" stroke="#000" stroke-width="0.7" stroke-linejoin="round" xml:space="preserve">-</text><text transform="translate(236.16 1164.8) scale(0.9895 1.0000)" font-size="55" stroke="#000" stroke-width="0.7" stroke-linejoin="round" xml:space="preserve">4</text></g>
<text transform="translate(297.66 1253.1) scale(0.9972 0.9800)" font-size="80" stroke="#000" stroke-width="1.3" stroke-linejoin="round" xml:space="preserve">0</text>
<text transform="translate(972.85 1252.2) scale(0.9852 0.9900)" font-size="80" stroke="#000" stroke-width="1.0" stroke-linejoin="round" xml:space="preserve">25</text>
<text transform="translate(1669.67 1252.2) scale(1.0068 0.9900)" font-size="80" stroke="#000" stroke-width="1.0" stroke-linejoin="round" xml:space="preserve">50</text>
<text transform="translate(1000.02 1343.6) scale(0.9942 0.9600)" font-size="100" font-style="italic" stroke="#000" stroke-width="0.8" stroke-linejoin="round" xml:space="preserve">t</text>
<text transform="translate(102.60 626.00) rotate(-90) skewX(-20) scale(1.0122 1.1314)" font-size="70" font-family="'DejaVu Sans', 'DejaVu Math TeX Gyre', 'Liberation Serif', sans-serif" stroke="#000" stroke-width="1.4" stroke-linejoin="round">ℒ</text>
<rect x="29" y="563" width="7" height="45" shape-rendering="crispEdges"/>
<g><text transform="translate(969.2 110.1) scale(0.8000 0.9700)" font-size="80" stroke="#000" stroke-width="1.0" stroke-linejoin="round" xml:space="preserve">|</text><text transform="translate(981.7 110.6) scale(1.0987 0.9850)" font-size="80" stroke="#000" stroke-width="1.3" stroke-linejoin="round" xml:space="preserve">λ</text><text transform="translate(1027.4 110.1) scale(0.8000 0.9700)" font-size="80" stroke="#000" stroke-width="1.0" stroke-linejoin="round" xml:space="preserve">|</text><text transform="translate(1037.72 104.5) scale(1.1099 0.7700)" font-size="80" stroke="#000" stroke-width="1.0" stroke-linejoin="round" xml:space="preserve">= </text><text transform="translate(1108.76 108.8) scale(0.6844 0.9800)" font-size="80" stroke="#000" stroke-width="1.9" stroke-linejoin="round" xml:space="preserve">1</text><text transform="translate(1142.2 108.9) scale(1.0198 0.9800)" font-size="80" stroke="#000" stroke-width="1.3" stroke-linejoin="round" xml:space="preserve">0</text><text transform="translate(1185.46 78.3) scale(0.9000 1.0000)" font-size="55" stroke="#000" stroke-width="0.7" stroke-linejoin="round" xml:space="preserve">-</text><text transform="translate(1200.02 78.3) scale(1.0749 1.0000)" font-size="55" stroke="#000" stroke-width="0.7" stroke-linejoin="round" xml:space="preserve">2</text></g>
<g><text transform="translate(737.2 541.9) scale(0.8000 0.9700)" font-size="80" stroke="#000" stroke-width="1.0" stroke-linejoin="round" xml:space="preserve">|</text><text transform="translate(749.7 542.4) scale(1.0987 0.9850)" font-size="80" stroke="#000" stroke-width="1.3" stroke-linejoin="round" xml:space="preserve">λ</text><text transform="translate(795.4 541.9) scale(0.8000 0.9700)" font-size="80" stroke="#000" stroke-width="1.0" stroke-linejoin="round" xml:space="preserve">|</text><text transform="translate(805.72 536.3) scale(1.1099 0.7700)" font-size="80" stroke="#000" stroke-width="1.0" stroke-linejoin="round" xml:space="preserve">= </text><text transform="translate(877.64 540.6) scale(0.6711 0.9800)" font-size="80" stroke="#000" stroke-width="1.9" stroke-linejoin="round" xml:space="preserve">1</text><text transform="translate(910.79 540.7) scale(0.9830 0.9800)" font-size="80" stroke="#000" stroke-width="1.3" stroke-linejoin="round" xml:space="preserve">0</text><text transform="translate(953.61 510.1) scale(0.9267 1.0000)" font-size="55" stroke="#000" stroke-width="0.7" stroke-linejoin="round" xml:space="preserve">-</text><text transform="translate(968.74 510.1) scale(1.0086 1.0000)" font-size="55" stroke="#000" stroke-width="0.7" stroke-linejoin="round" xml:space="preserve">4</text></g>
<g><text transform="translate(1331.2 573.3) scale(0.8000 0.9700)" font-size="80" stroke="#000" stroke-width="1.0" stroke-linejoin="round" xml:space="preserve">|</text><text transform="translate(1343.7 573.8) scale(1.0987 0.9850)" font-size="80" stroke="#000" stroke-width="1.3" stroke-linejoin="round" xml:space="preserve">λ</text><text transform="translate(1389.4 573.3) scale(0.8000 0.9700)" font-size="80" stroke="#000" stroke-width="1.0" stroke-linejoin="round" xml:space="preserve">|</text><text transform="translate(1399.72 567.7) scale(1.1099 0.7700)" font-size="80" stroke="#000" stroke-width="1.0" stroke-linejoin="round" xml:space="preserve">= </text><text transform="translate(1463.27 573) scale(1.0727 1.0000)" font-size="80" stroke="#000" stroke-width="1.0" stroke-linejoin="round" xml:space="preserve">2</text><text transform="translate(1506.67 573) scale(0.9880 1.0000)" font-size="80" stroke="#000" stroke-width="1.0" stroke-linejoin="round" xml:space="preserve">×</text><text transform="translate(1559.06 572) scale(0.6346 0.9800)" font-size="80" stroke="#000" stroke-width="1.9" stroke-linejoin="round" xml:space="preserve">1</text><text transform="translate(1590.82 572.1) scale(1.0142 0.9800)" font-size="80" stroke="#000" stroke-width="1.3" stroke-linejoin="round" xml:space="preserve">0</text><text transform="translate(1631.41 541) scale(0.9267 1.0000)" font-size="55" stroke="#000" stroke-width="0.7" stroke-linejoin="round" xml:space="preserve">-</text><text transform="translate(1646.13 541) scale(1.0238 1.0000)" font-size="55" stroke="#000" stroke-width="0.7" stroke-linejoin="round" xml:space="preserve">4</text></g>
<g><text transform="translate(1027.83 1119.4) scale(1.0747 0.9850)" font-size="80" stroke="#000" stroke-width="1.3" stroke-linejoin="round" xml:space="preserve">λ</text><text transform="translate(1068.16 1113.3) scale(1.0969 0.7700)" font-size="80" stroke="#000" stroke-width="1.0" stroke-linejoin="round" xml:space="preserve">= </text><text transform="translate(1133.94 1117.7) scale(1.0028 0.9800)" font-size="80" stroke="#000" stroke-width="1.3" stroke-linejoin="round" xml:space="preserve">0</text></g>
</g>
</svg>
</body>
</html>
